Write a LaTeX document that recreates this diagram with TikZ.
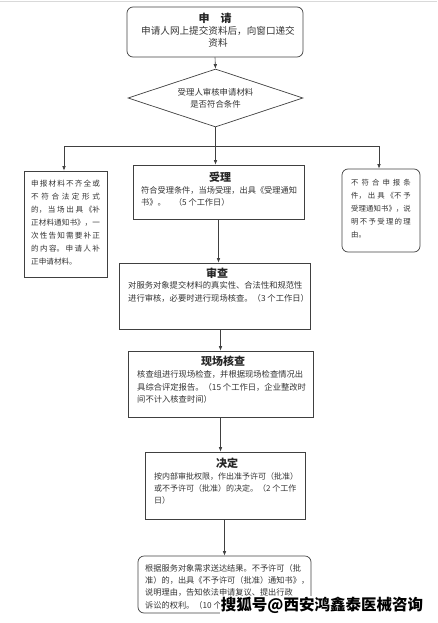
\documentclass[tikz,border=0pt]{standalone}
\usepackage{fontspec}
\setmainfont{Noto Sans CJK SC}
\XeTeXlinebreaklocale "zh"
\XeTeXlinebreakskip = 0pt plus 2pt
\usetikzlibrary{shapes.geometric,arrows.meta}

\tikzset{
  box/.style={draw=black!75, line width=0.7pt, inner sep=0pt},
  rbox/.style={box, rounded corners=6pt},
  title/.style={inner sep=0pt, font=\fontsize{11}{13}\selectfont\bfseries, text=black!85},
  body/.style={inner sep=0pt, anchor=west, align=left, text=black!80,
    font=\fontsize{8.3}{12.2}\selectfont},
  para/.style={body, align=justify, text width=#1},
  link/.style={draw=black!75, line width=0.6pt},
  arr/.style={link, -{Latex[length=4.5pt,width=3.6pt]}}
}

\begin{document}
\begin{tikzpicture}[x=1pt,y=-1pt]
  \useasboundingbox (0,0) rectangle (437,623);

  % Top border
  \draw[black!15] (0,1.5) -- (437,1.5);

  % Application
  \node[rbox, minimum width=176pt, minimum height=50pt] (apply) at (215,32) {};
  \node[title] (applyT) at (215,18.5) {申\quad 请};
  \node[body, anchor=center, align=center, font=\fontsize{9.6}{11.5}\selectfont] (applyB) at (218,37)
    {申请人网上提交资料后，向窗口递交\\资料};

  % Check of the materials
  \node[box, diamond, aspect=3, minimum width=175pt, minimum height=58pt, align=center,
    text=black!80, font=\fontsize{8.4}{12}\selectfont] (check) at (215.5,98)
    {受理人审核申请材料\\是否符合条件};

  % Three branches
  \coordinate (split) at (215.5,146);
  \coordinate (splitL) at (64,146);
  \coordinate (splitR) at (379,146);

  % Incomplete materials
  \node[box, minimum width=83pt, minimum height=106pt] (supp) at (65.5,224) {};
  \node[para=68.8pt, font=\fontsize{7.6}{13.1}\selectfont] (suppB) at (31,222.5)
    {申报材料不齐全或\break 不符合法定形式\break 的，当场出具《补\break 正材料通知书》，一\break
     次性告知需要补正\break 的内容。申请人补\break 正申请材料。};

  % Acceptance
  \node[box, minimum width=171pt, minimum height=54pt] (accept) at (218.5,192) {};
  \node[title] (acceptT) at (220,177) {受理};
  \node[body, font=\fontsize{8.2}{12}\selectfont] (acceptB) at (141,196)
    {符合受理条件，当场受理，出具《受理通知\\书》。\quad（5 个工作日）};

  % Rejection
  \node[rbox, minimum width=78pt, minimum height=83pt] (reject) at (381,210.5) {};
  \node[para=59.6pt, font=\fontsize{7.4}{13.1}\selectfont] (rejectB) at (351,208.8)
    {不符合申报条\break 件，出具《不予\break 受理通知书》，说\break 明不予受理的理\break 由。};

  % Review
  \node[box, minimum width=191pt, minimum height=66pt] (review) at (214.5,296) {};
  \node[title] (reviewT) at (217,273) {审查};
  \node[body] (reviewB) at (128,292)
    {对服务对象提交材料的真实性、合法性和规范性\\进行审核，必要时进行现场核查。（3 个工作日）};

  % On-site check
  \node[box, minimum width=185pt, minimum height=66pt] (site) at (220.5,384) {};
  \node[title] (siteT) at (223,361) {现场核查};
  \node[body] (siteB) at (137,387)
    {核查组进行现场检查，并根据现场检查情况出\\具综合评定报告。（15 个工作日，企业整改时\\间不计入核查时间）};

  % Decision
  \node[box, minimum width=160pt, minimum height=67pt] (decide) at (225,485.5) {};
  \node[title] (decideT) at (227,463) {决定};
  \node[body, font=\fontsize{8}{12}\selectfont] (decideB) at (154,488)
    {按内部审批权限，作出准予许可（批准）\\或不予许可（批准）的决定。（2 个工作\\日）};

  % Delivery
  \node[rbox, minimum width=173pt, minimum height=57pt] (deliver) at (224.5,584.5) {};
  \node[body, font=\fontsize{8.2}{12.3}\selectfont] (deliverB) at (145,586.5)
    {根据服务对象需求送达结果。不予许可（批\\准）的，出具《不予许可（批准）通知书》，\\说明理由，告知依法申请复议、提出行政\\诉讼的权利。（10 个};

  % Connectors
  \draw[arr] (apply.south) -- (check.north);
  \draw[link] (check.south) -- (split);
  \draw[link] (splitL) -- (splitR);
  \draw[arr] (splitL) -- (splitL |- supp.north);
  \draw[arr] (split) -- (split |- accept.north);
  \draw[arr] (splitR) -- (splitR |- reject.north);
  \draw[arr] (accept.south) -- (accept.south |- review.north);
  \draw[arr] (site.north |- review.south) -- (site.north);
  \draw[arr] (site.south) -- (site.south |- decide.north);
  \draw[arr] (deliver.north |- decide.south) -- (deliver.north);

  % Watermark
  \node[fill=white, inner sep=1pt, font=\fontsize{15.5}{17}\selectfont\bfseries] (mark) at (322,605)
    {搜狐号@西安鸿鑫泰医械咨询};
\end{tikzpicture}
\end{document}
